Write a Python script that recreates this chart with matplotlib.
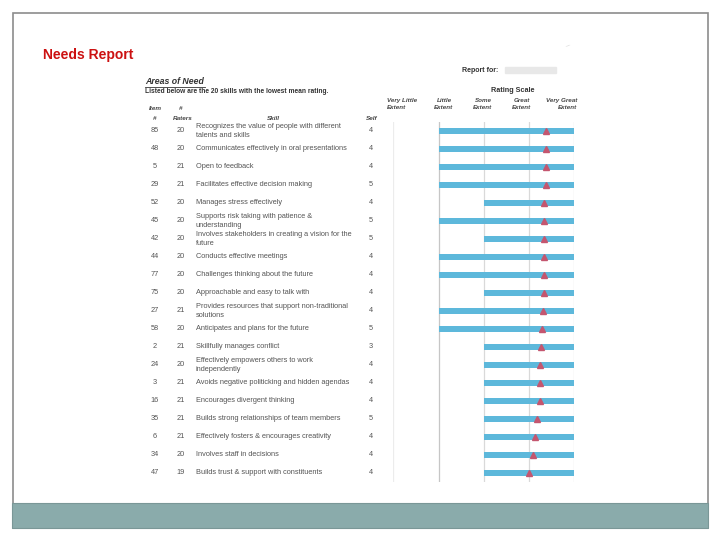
import matplotlib
matplotlib.use("Agg")
import matplotlib.pyplot as plt
import matplotlib.transforms as mtransforms
from matplotlib.patches import Rectangle, FancyBboxPatch
import numpy as np

# ---------------- data ----------------
items = [85, 48, 5, 29, 52, 45, 42, 44, 77, 75, 27, 58, 2, 24, 3, 16, 35, 6, 34, 47]
raters = [20, 20, 21, 21, 20, 20, 20, 20, 20, 20, 21, 20, 21, 20, 21, 21, 21, 21, 20, 19]
skills = [
    "Recognizes the value of people with different\ntalents and skills",
    "Communicates effectively in oral presentations",
    "Open to feedback",
    "Facilitates effective decision making",
    "Manages stress effectively",
    "Supports risk taking with patience &\nunderstanding",
    "Involves stakeholders in creating a vision for the\nfuture",
    "Conducts effective meetings",
    "Challenges thinking about the future",
    "Approachable and easy to talk with",
    "Provides resources that support non-traditional\nsolutions",
    "Anticipates and plans for the future",
    "Skillfully manages conflict",
    "Effectively empowers others to work\nindependently",
    "Avoids negative politicking and hidden agendas",
    "Encourages divergent thinking",
    "Builds strong relationships of team members",
    "Effectively fosters & encourages creativity",
    "Involves staff in decisions",
    "Builds trust & support with constituents",
]
self_ratings = [4, 4, 4, 5, 4, 5, 5, 4, 4, 4, 4, 5, 3, 4, 4, 4, 5, 4, 4, 4]
range_min = [2, 2, 2, 2, 3, 2, 3, 2, 2, 3, 2, 2, 3, 3, 3, 3, 3, 3, 3, 3]
range_max = [5, 5, 5, 5, 5, 5, 5, 5, 5, 5, 5, 5, 5, 5, 5, 5, 5, 5, 5, 5]
mean_rating = [4.38, 4.38, 4.38, 4.37, 4.33, 4.33, 4.33, 4.33, 4.33, 4.33,
               4.31, 4.29, 4.27, 4.24, 4.24, 4.24, 4.18, 4.13, 4.09, 4.00]
scale_labels = ["Very Little\nExtent", "Little\nExtent", "Some\nExtent",
                "Great\nExtent", "Very Great\nExtent"]

W, H = 720, 540
FONT = "Liberation Sans"
TXT = "#555555"
DARK = "#333333"

fig = plt.figure(figsize=(7.2, 5.4), dpi=100)
fig.patch.set_facecolor("white")

# background axes in pixel coordinates
bg = fig.add_axes([0, 0, 1, 1])
bg.set_xlim(0, W)
bg.set_ylim(H, 0)
bg.axis("off")

# slide frame and bottom band
bg.add_patch(Rectangle((12.5, 12.5), 695.5, 515.5, fill=False,
                       edgecolor="#8c8c8c", lw=1.2))
bg.add_patch(Rectangle((11.5, 503), 696.5, 25, facecolor="#8aabab",
                       edgecolor="#7a9797", lw=0.8))

bg.text(43, 55, "Needs Report", color="#cc1111", fontsize=10,
        fontweight="bold", family=FONT, va="center", ha="left")

# faint mark top right
bg.text(568, 47, "~", color="#cfcfcf", fontsize=6, va="center", ha="center",
        rotation=20, family=FONT)

# header texts
bg.text(145, 81, "Areas of Need", fontsize=6.3, fontweight="bold",
        fontstyle="italic", color=DARK, family=FONT, va="center", ha="left")
bg.plot([145, 205], [86.5, 86.5], color=DARK, lw=0.6)
bg.text(145, 91.5, "Listed below are the 20 skills with the lowest mean rating.",
        fontsize=4.8, fontweight="bold", color=DARK, family=FONT,
        va="center", ha="left")
bg.text(462, 71, "Report for:", fontsize=5, fontweight="bold", color=DARK,
        family=FONT, va="center", ha="left")
bg.add_patch(FancyBboxPatch((506, 68), 50, 5, boxstyle="round,pad=1.2",
                            facecolor="#e8e8e8", edgecolor="none"))
bg.text(513, 90, "Rating Scale", fontsize=5.2, fontweight="bold", color=DARK,
        family=FONT, va="center", ha="center")

# column headers
hdr = dict(fontsize=4.6, fontstyle="italic", fontweight="bold", color="#444444",
           family=FONT, va="center")
bg.text(155, 109, "Item", ha="center", **hdr)
bg.text(155, 118, "#", ha="center", **hdr)
bg.text(181, 109, "#", ha="center", **hdr)
bg.text(183, 118, "Raters", ha="center", **hdr)
bg.text(273, 118, "Skill", ha="center", **hdr)
bg.text(372, 118, "Self", ha="center", **hdr)

# rating chart axes (scale 1..5)
x1, x5 = 393.3, 574.3
ytop, ybot = 122, 482
ax = fig.add_axes([x1 / W, 1 - ybot / H, (x5 - x1) / W, (ybot - ytop) / H])
ax.set_xlim(1, 5)
ax.set_ylim(len(items) - 0.5, -0.5)
ax.axis("off")

line_colors = ["#ececec", "#c6c6c6", "#d9d9d9", "#d9d9d9", "#d9d9d9"]
for v, c in zip(range(1, 6), line_colors):
    ax.axvline(v, color=c, lw=0.9, zorder=1)

rows = np.arange(len(items))
ax.barh(rows, np.array(range_max) - np.array(range_min), left=range_min,
        height=0.38, color="#5db8db", zorder=2)
ax.plot(mean_rating, rows, linestyle="none", marker="^", markersize=4.6,
        color="#c4566f", zorder=3, clip_on=False)

# scale labels
sl_kw = dict(fontsize=4.5, fontstyle="italic", fontweight="bold",
             color="#444444", family=FONT, va="center", linespacing=1.6)
scale_x = [(387, "left"), (444, "center"), (483, "center"), (522, "center"),
           (577, "right")]
for lab, (sx, ha) in zip(scale_labels, scale_x):
    bg.text(sx, 104, lab, ha=ha, multialignment=ha, **sl_kw)

# table text tied to chart rows
tr = mtransforms.blended_transform_factory(bg.transData, ax.transData)
cell = dict(fontsize=5.3, color=TXT, family=FONT, va="center", transform=tr)
for i in rows:
    bg.text(155, i, str(items[i]), ha="center", **cell)
    bg.text(181, i, str(raters[i]), ha="center", **cell)
    bg.text(196, i, skills[i], ha="left", linespacing=1.3, **cell)
    bg.text(371, i, str(self_ratings[i]), ha="center", **cell)

fig.savefig("out.png", dpi=100, facecolor="white")
